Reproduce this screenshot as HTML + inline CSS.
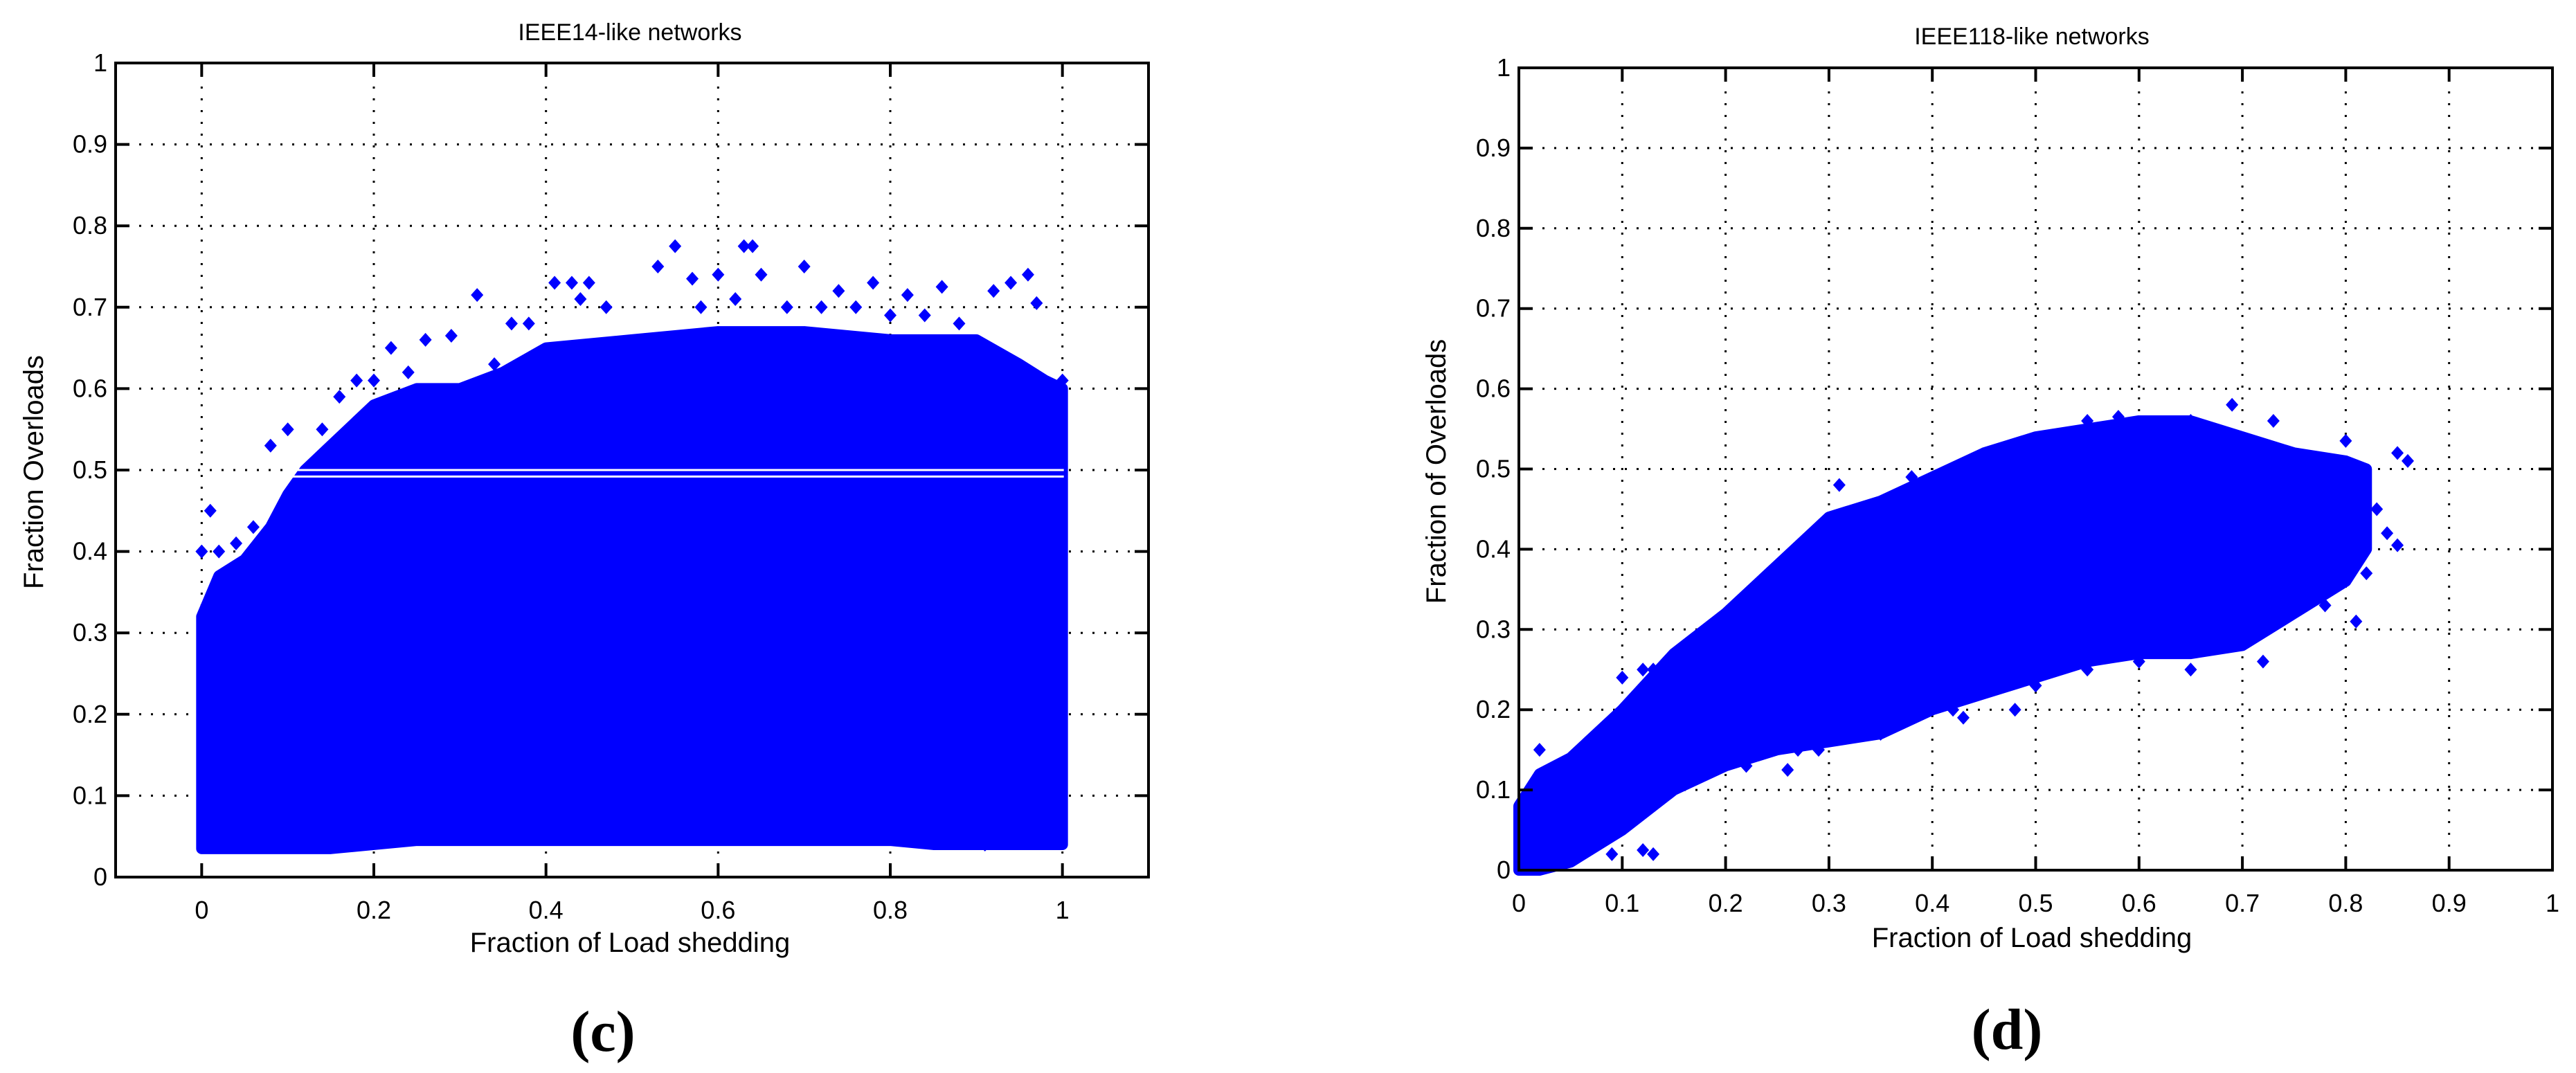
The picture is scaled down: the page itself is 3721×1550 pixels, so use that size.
<!DOCTYPE html>
<html><head><meta charset="utf-8">
<style>
html,body{margin:0;padding:0;background:#fff;}
svg{display:block;}
text{font-family:"Liberation Sans",Arial,sans-serif;fill:#000;}
.cap{font-family:"Liberation Serif",serif;font-weight:bold;}
</style></head>
<body>
<svg id="fig" width="3721" height="1550" viewBox="0 0 3721 1550" xmlns="http://www.w3.org/2000/svg"></svg>
<script>
// ---- Chart (c) data: IEEE14-like ----
const cBandX = [0,0.02,0.05,0.08,0.1,0.12,0.15,0.2,0.25,0.3,0.35,0.4,0.5,0.6,0.7,0.8,0.85,0.9,0.95,0.98,1.0];
const cBandUpper = [0.32,0.37,0.39,0.43,0.47,0.5,0.53,0.58,0.6,0.6,0.62,0.65,0.66,0.67,0.67,0.66,0.66,0.66,0.63,0.61,0.6];
const cBandLower = [0.035,0.035,0.035,0.035,0.035,0.035,0.035,0.04,0.045,0.045,0.045,0.045,0.045,0.045,0.045,0.045,0.04,0.04,0.04,0.04,0.04];
const cOutX = [0.01,0.0,0.02,0.08,0.1,0.16,0.18,0.22,0.26,0.29,0.32,0.36,0.41,0.43,0.45,0.53,0.55,0.57,0.6,0.63,0.64,0.65,0.7,0.74,0.78,0.82,0.86,0.92,0.94,0.96,0.97,0.89,0.91,1.0,0.44,0.47,0.58,0.62,0.68,0.72,0.76,0.8,0.84,0.88,0.38,0.34,0.24,0.2,0.14,0.06,0.04];
const cOutY = [0.45,0.4,0.4,0.53,0.55,0.59,0.61,0.65,0.66,0.665,0.715,0.68,0.73,0.73,0.73,0.75,0.775,0.735,0.74,0.775,0.775,0.74,0.75,0.72,0.73,0.715,0.725,0.72,0.73,0.74,0.705,0.05,0.04,0.61,0.71,0.7,0.7,0.71,0.7,0.7,0.7,0.69,0.69,0.68,0.68,0.63,0.62,0.61,0.55,0.43,0.41];
const cGapY = [0.492,0.5];
const cTicksX = ["0","0.2","0.4","0.6","0.8","1"];
const cTickValsX = [0,0.2,0.4,0.6,0.8,1];
// ---- Chart (d) data: IEEE118-like ----
const dBandX = [0,0.02,0.05,0.1,0.15,0.2,0.25,0.3,0.35,0.4,0.45,0.5,0.55,0.6,0.65,0.7,0.75,0.8,0.82];
const dBandUpper = [0.08,0.12,0.14,0.2,0.27,0.32,0.38,0.44,0.46,0.49,0.52,0.54,0.55,0.56,0.56,0.54,0.52,0.51,0.5];
const dBandLower = [0,0,0.01,0.05,0.1,0.13,0.15,0.16,0.17,0.2,0.22,0.24,0.26,0.27,0.27,0.28,0.32,0.36,0.4];
const dOutX = [0.13,0.12,0.09,0.26,0.29,0.38,0.31,0.65,0.69,0.73,0.8,0.85,0.86,0.85,0.83,0.81,0.72,0.65,0.43,0.48,0.1,0.12,0.13,0.02,0.22,0.27,0.35,0.42,0.5,0.55,0.6,0.78,0.82,0.84,0.55,0.58];
const dOutY = [0.02,0.025,0.02,0.125,0.15,0.49,0.48,0.56,0.58,0.56,0.535,0.52,0.51,0.405,0.45,0.31,0.26,0.25,0.19,0.2,0.24,0.25,0.25,0.15,0.13,0.15,0.17,0.2,0.23,0.25,0.26,0.33,0.37,0.42,0.56,0.565];
const dTicksX = ["0","0.1","0.2","0.3","0.4","0.5","0.6","0.7","0.8","0.9","1"];
const dTickValsX = [0,0.1,0.2,0.3,0.4,0.5,0.6,0.7,0.8,0.9,1];
const yTickVals = [0,0.1,0.2,0.3,0.4,0.5,0.6,0.7,0.8,0.9,1];
const yTicks = ["0","0.1","0.2","0.3","0.4","0.5","0.6","0.7","0.8","0.9","1"];

const NS="http://www.w3.org/2000/svg";
const svg=document.getElementById('fig');
function mk(tag,attrs,parent){const e=document.createElementNS(NS,tag);for(const k in attrs)e.setAttribute(k,attrs[k]);(parent||svg).appendChild(e);return e;}

function chart(cfg){
  const g=mk('g',{});
  
  
  const sx=v=>cfg.L+(v-cfg.x0)/(cfg.x1-cfg.x0)*(cfg.R-cfg.L);
  const sy=v=>cfg.B-(v-0)/(1-0)*(cfg.B-cfg.T);
  cfg.xv.forEach(v=>{const l=mk('line',{x1:sx(v),x2:sx(v),y1:cfg.T,y2:cfg.B,stroke:'#000','stroke-width':3,'stroke-dasharray':'3 14'},g);
    });
  yTickVals.forEach(v=>{const l=mk('line',{x1:cfg.L,x2:cfg.R,y1:sy(v),y2:sy(v),stroke:'#000','stroke-width':3,'stroke-dasharray':'3 14'},g);
    });
  let d='M'+cfg.bx.map((x,i)=>sx(x)+','+sy(cfg.bu[i])).join(' L');
  for(let i=cfg.bx.length-1;i>=0;i--)d+=' L'+sx(cfg.bx[i])+','+sy(cfg.bl[i]);
  d+='Z';
  const band=mk('path',{d:d,fill:'#0000ff',stroke:'#0000ff','stroke-width':16,'stroke-linejoin':'round'},g);
  
  
  (cfg.gaps||[]).forEach(v=>{const l=mk('line',{x1:sx(0.1),x2:sx(1)+2,y1:sy(v),y2:sy(v),stroke:'#fff','stroke-width':3},g);
    });
  cfg.ox.forEach((x,i)=>{const cx=sx(x),cy=sy(cfg.oy[i]);
    const p=mk('polygon',{points:`${cx},${cy-10} ${cx+9},${cy} ${cx},${cy+10} ${cx-9},${cy}`,fill:'#0000ff'},g);
    });
  const box=mk('rect',{x:cfg.L,y:cfg.T,width:cfg.R-cfg.L,height:cfg.B-cfg.T,fill:'none',stroke:'#000','stroke-width':4},g);
  
  cfg.xv.forEach((v,i)=>{mk('line',{x1:sx(v),x2:sx(v),y1:cfg.B,y2:cfg.B-20,stroke:'#000','stroke-width':4},g);
    mk('line',{x1:sx(v),x2:sx(v),y1:cfg.T,y2:cfg.T+20,stroke:'#000','stroke-width':4},g);
    const t=mk('text',{x:sx(v),y:cfg.B+60,'font-size':36,'text-anchor':'middle'},g);t.textContent=cfg.xl[i];
    });
  yTickVals.forEach((v,i)=>{mk('line',{x1:cfg.L,x2:cfg.L+20,y1:sy(v),y2:sy(v),stroke:'#000','stroke-width':4},g);
    mk('line',{x1:cfg.R,x2:cfg.R-20,y1:sy(v),y2:sy(v),stroke:'#000','stroke-width':4},g);
    const t=mk('text',{x:cfg.L-12,y:sy(v)+12,'font-size':36,'text-anchor':'end'},g);t.textContent=yTicks[i];
    });
  const ti=mk('text',{x:cfg.tx,y:cfg.ty,'font-size':34,'text-anchor':'middle'},g);ti.textContent=cfg.title;
  
  const xl=mk('text',{x:cfg.tx,y:cfg.xly,'font-size':40,'text-anchor':'middle'},g);xl.textContent='Fraction of Load shedding';
  
  const yl=mk('text',{x:0,y:0,'font-size':40,'text-anchor':'middle',transform:`translate(${cfg.ylx},${cfg.yly}) rotate(-90)`},g);yl.textContent=cfg.ylabel;
  
  const cp=mk('text',{x:cfg.capx,y:cfg.capy,'font-size':84,'text-anchor':'middle',class:'cap'},g);cp.textContent=cfg.cap;
  
}
chart({name:'chart-ieee14',L:167,R:1659,T:91,B:1267,x0:-0.1,x1:1.1,xv:cTickValsX,xl:cTicksX,bx:cBandX,bu:cBandUpper,bl:cBandLower,ox:cOutX,oy:cOutY,gaps:cGapY,
  title:'IEEE14-like networks',tx:910,ty:58,xly:1375,ylabel:'Fraction Overloads',ylx:62,yly:682,cap:'(c)',capx:871,capy:1518});
chart({name:'chart-ieee118',L:2194,R:3687,T:98,B:1257,x0:0,x1:1,xv:dTickValsX,xl:dTicksX,bx:dBandX,bu:dBandUpper,bl:dBandLower,ox:dOutX,oy:dOutY,gaps:[],
  title:'IEEE118-like networks',tx:2935,ty:64,xly:1368,ylabel:'Fraction of Overloads',ylx:2088,yly:681,cap:'(d)',capx:2899,capy:1515});
</script>
</body></html>
